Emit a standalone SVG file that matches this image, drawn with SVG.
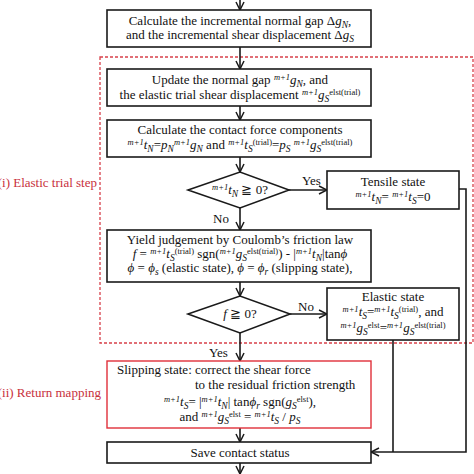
<svg xmlns="http://www.w3.org/2000/svg" width="474" height="474" viewBox="0 0 474 474" font-family="'Liberation Serif', 'DejaVu Serif', serif">
<style>
.bg{fill:#fff}
.box{fill:#fff;stroke:#1a1a1a;stroke-width:1.6}
.rbox{fill:#fff;stroke:#e0303a;stroke-width:1.4}
.dash{fill:none;stroke:#d8404a;stroke-width:1.3;stroke-dasharray:3 2}
.ln{fill:none;stroke:#1a1a1a;stroke-width:1.6}
text{font-family:'Liberation Serif','DejaVu Serif',serif;font-size:13px;fill:#111}
.c{text-anchor:middle}
.red{fill:#c8303c}
.i{font-style:italic}
.sup{font-size:8.5px;baseline-shift:4px}
.sub{font-size:9.5px;baseline-shift:-2.5px;font-style:italic}
.sm{font-size:13px}
</style>
<defs>
<marker id="ah" viewBox="0 0 10 10" refX="9" refY="5" markerWidth="10" markerHeight="10" markerUnits="userSpaceOnUse" orient="auto">
<path d="M1,1 L9,5 L1,9" fill="none" stroke="#1a1a1a" stroke-width="1.5"/>
</marker>
</defs>
<rect class="bg" width="474" height="474"/>
<rect class="dash" x="100" y="57" width="373" height="286"/>
<g id="connectors">
<line class="ln" x1="240" y1="0" x2="240" y2="10" marker-end="url(#ah)"/>
<line class="ln" x1="240" y1="47" x2="240" y2="69" marker-end="url(#ah)"/>
<line class="ln" x1="240" y1="106" x2="240" y2="120" marker-end="url(#ah)"/>
<line class="ln" x1="240" y1="157" x2="240" y2="172" marker-end="url(#ah)"/>
<line class="ln" x1="289" y1="190" x2="327" y2="190" marker-end="url(#ah)"/>
<line class="ln" x1="240" y1="208" x2="240" y2="230" marker-end="url(#ah)"/>
<line class="ln" x1="240" y1="282" x2="240" y2="296" marker-end="url(#ah)"/>
<line class="ln" x1="290" y1="314" x2="327" y2="314" marker-end="url(#ah)"/>
<line class="ln" x1="240" y1="333" x2="240" y2="361" marker-end="url(#ah)"/>
<line class="ln" x1="240" y1="428" x2="240" y2="442" marker-end="url(#ah)"/>
<polyline class="ln" points="459,189 466,189 466,452 371,452" marker-end="url(#ah)"/>
<line class="ln" x1="393" y1="340" x2="393" y2="452"/>
<line class="ln" x1="240" y1="463" x2="240" y2="474" marker-end="url(#ah)"/>
<text x="302" y="185">Yes</text>
<text x="213" y="223">No</text>
<text x="298" y="311">No</text>
<text x="209" y="357">Yes</text>
</g>
<text class="red" x="97" y="187" text-anchor="end">(i) Elastic trial step</text>
<text class="red" x="101" y="397" text-anchor="end">(ii) Return mapping</text>
<g id="box1">
<rect class="box" x="107" y="10" width="264" height="37"/>
<text class="c" x="240" y="25">Calculate the incremental normal gap Δ<tspan class="i">g</tspan><tspan class="sub">N</tspan>,</text>
<text class="c" x="240" y="39">and the incremental shear displacement Δ<tspan class="i">g</tspan><tspan class="sub">S</tspan></text>
</g>
<g id="box2">
<rect class="box" x="107" y="69" width="264" height="37"/>
<text class="c" x="240" y="84">Update the normal gap <tspan class="sup i">m+1</tspan><tspan class="i">g</tspan><tspan class="sub">N</tspan>, and</text>
<text class="c" x="240" y="99">the elastic trial shear displacement <tspan class="sup i">m+1</tspan><tspan class="i">g</tspan><tspan class="sub">S</tspan><tspan class="sup">elst(trial)</tspan></text>
</g>
<g id="box3">
<rect class="box" x="107" y="120" width="264" height="37"/>
<text class="c" x="240" y="134">Calculate the contact force components</text>
<text class="c sm" x="240" y="149"><tspan class="sup i">m+1</tspan><tspan class="i">t</tspan><tspan class="sub">N</tspan>=<tspan class="i">p</tspan><tspan class="sub">N</tspan><tspan class="sup i">m+1</tspan><tspan class="i">g</tspan><tspan class="sub">N</tspan> and <tspan class="sup i">m+1</tspan><tspan class="i">t</tspan><tspan class="sub">S</tspan><tspan class="sup">(trial)</tspan>=<tspan class="i">p</tspan><tspan class="sub">S</tspan> <tspan class="sup i">m+1</tspan><tspan class="i">g</tspan><tspan class="sub">S</tspan><tspan class="sup">elst(trial)</tspan></text>
</g>
<g id="decision1">
<polygon class="box" points="188,190 240,172 289,190 240,208"/>
<text class="c sm" x="240" y="194"><tspan class="sup i">m+1</tspan><tspan class="i">t</tspan><tspan class="sub">N</tspan> ≧ 0?</text>
</g>
<g id="tensile">
<rect class="box" x="327" y="171" width="132" height="38"/>
<text class="c" x="393" y="186">Tensile state</text>
<text class="c sm" x="393" y="201"><tspan class="sup i">m+1</tspan><tspan class="i">t</tspan><tspan class="sub">N</tspan>= <tspan class="sup i">m+1</tspan><tspan class="i">t</tspan><tspan class="sub">S</tspan>=0</text>
</g>
<g id="box4">
<rect class="box" x="107" y="230" width="264" height="52"/>
<text class="c" x="240" y="244">Yield judgement by Coulomb’s friction law</text>
<text class="c sm" x="240" y="258"><tspan class="i">f</tspan> = <tspan class="sup i">m+1</tspan><tspan class="i">t</tspan><tspan class="sub">S</tspan><tspan class="sup">(trial)</tspan> sgn(<tspan class="sup i">m+1</tspan><tspan class="i">g</tspan><tspan class="sub">S</tspan><tspan class="sup">elst(trial)</tspan>) - |<tspan class="sup i">m+1</tspan><tspan class="i">t</tspan><tspan class="sub">N</tspan>|tan<tspan class="i">ϕ</tspan></text>
<text class="c" x="240" y="272"><tspan class="i">ϕ</tspan> = <tspan class="i">ϕ</tspan><tspan class="sub">s</tspan> (elastic state), <tspan class="i">ϕ</tspan> = <tspan class="i">ϕ</tspan><tspan class="sub">r</tspan> (slipping state),</text>
</g>
<g id="decision2">
<polygon class="box" points="188,314 240,296 290,314 240,333"/>
<text class="c" x="240" y="318"><tspan class="i">f</tspan> ≧ 0?</text>
</g>
<g id="elastic">
<rect class="box" x="327" y="288" width="132" height="52"/>
<text class="c" x="393" y="301">Elastic state</text>
<text class="c sm" x="393" y="316"><tspan class="sup i">m+1</tspan><tspan class="i">t</tspan><tspan class="sub">S</tspan>=<tspan class="sup i">m+1</tspan><tspan class="i">t</tspan><tspan class="sub">S</tspan><tspan class="sup">(trial)</tspan>, and</text>
<text class="c sm" x="393" y="332"><tspan class="sup i">m+1</tspan><tspan class="i">g</tspan><tspan class="sub">S</tspan><tspan class="sup">elst</tspan>=<tspan class="sup i">m+1</tspan><tspan class="i">g</tspan><tspan class="sub">S</tspan><tspan class="sup">elst(trial)</tspan></text>
</g>
<g id="slipping">
<rect class="rbox" x="107" y="361" width="264" height="67"/>
<text x="117" y="374">Slipping state: correct the shear force</text>
<text x="195" y="389">to the residual friction strength</text>
<text class="c sm" x="240" y="406"><tspan class="sup i">m+1</tspan><tspan class="i">t</tspan><tspan class="sub">S</tspan>= |<tspan class="sup i">m+1</tspan><tspan class="i">t</tspan><tspan class="sub">N</tspan>| tan<tspan class="i">ϕ</tspan><tspan class="sub">r</tspan> sgn(<tspan class="i">g</tspan><tspan class="sub">S</tspan><tspan class="sup">elst</tspan>),</text>
<text class="c sm" x="240" y="421">and <tspan class="sup i">m+1</tspan><tspan class="i">g</tspan><tspan class="sub">S</tspan><tspan class="sup">elst</tspan> = <tspan class="sup i">m+1</tspan><tspan class="i">t</tspan><tspan class="sub">S</tspan> / <tspan class="i">p</tspan><tspan class="sub">S</tspan></text>
</g>
<g id="save">
<rect class="box" x="107" y="442" width="264" height="21"/>
<text class="c" x="240" y="457">Save contact status</text>
</g>
</svg>
